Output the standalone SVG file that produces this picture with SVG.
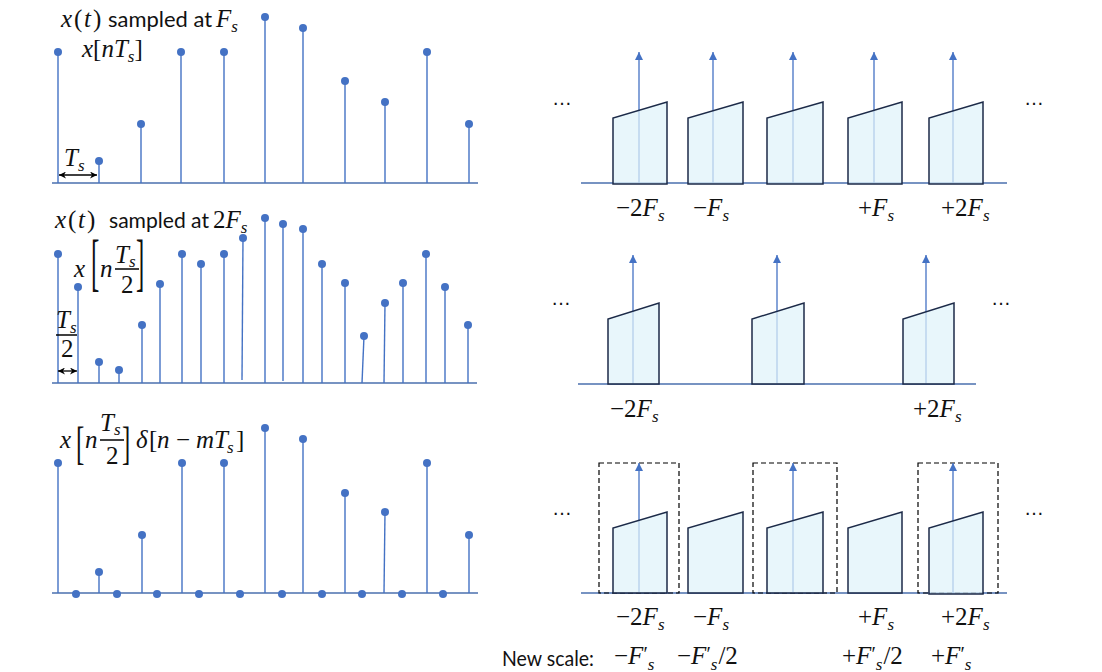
<svg xmlns="http://www.w3.org/2000/svg" width="1102" height="672" viewBox="0 0 1102 672">
<style>
.stem{stroke:#4472C4;stroke-width:1.4;fill:none}
.dot{fill:#4472C4}
.axis{stroke:#4a6fae;stroke-width:1.4;fill:none}
.arr{stroke:#4472C4;stroke-width:1.3;fill:none}
.trap{fill:#dff2fa;fill-opacity:0.72;stroke:#1c2a48;stroke-width:1.5;stroke-linejoin:miter}
.dash{fill:none;stroke:#000;stroke-width:1.2;stroke-dasharray:5,3}
.dim{stroke:#000;stroke-width:1.3;fill:none}
.m{font-family:"Liberation Serif","DejaVu Serif",serif;font-style:italic;font-size:25px;fill:#111}
.n{font-style:normal}
.sb{font-size:17px}
.s{font-family:Lato,"Liberation Sans",sans-serif;font-size:22px;fill:#111}
.el{font-family:"Liberation Sans",sans-serif;font-size:20px;fill:#111}
</style>
<defs>
<marker id="ah" viewBox="0 0 10 10" refX="10" refY="5" markerWidth="8" markerHeight="8" markerUnits="userSpaceOnUse" orient="auto"><path d="M0,0 L10,5 L0,10 z" fill="#4472C4"/></marker>
<marker id="bh" viewBox="0 0 10 10" refX="10" refY="5" markerWidth="7" markerHeight="7" markerUnits="userSpaceOnUse" orient="auto-start-reverse"><path d="M0,0 L10,5 L0,10 L3,5 z" fill="#000"/></marker>
</defs>

<!-- ===== Left top: sampled at Fs ===== -->
<g id="panel-top-left">
<line class="axis" x1="52" y1="183" x2="478" y2="183"/>
<g id="stems-top">
<line class="stem" x1="58" y1="183" x2="58" y2="52"/><circle class="dot" cx="58" cy="52" r="4"/>
<line class="stem" x1="99" y1="183" x2="99" y2="161"/><circle class="dot" cx="99" cy="161" r="4"/>
<line class="stem" x1="141" y1="183" x2="141" y2="124"/><circle class="dot" cx="141" cy="124" r="4"/>
<line class="stem" x1="181" y1="183" x2="181" y2="52"/><circle class="dot" cx="181" cy="52" r="4"/>
<line class="stem" x1="224" y1="183" x2="224" y2="52"/><circle class="dot" cx="224" cy="52" r="4"/>
<line class="stem" x1="265" y1="183" x2="265" y2="17"/><circle class="dot" cx="265" cy="17" r="4"/>
<line class="stem" x1="303" y1="183" x2="303" y2="28"/><circle class="dot" cx="303" cy="28" r="4"/>
<line class="stem" x1="345" y1="183" x2="345" y2="81"/><circle class="dot" cx="345" cy="81" r="4"/>
<line class="stem" x1="385" y1="183" x2="385" y2="102"/><circle class="dot" cx="385" cy="102" r="4"/>
<line class="stem" x1="427" y1="183" x2="427" y2="52"/><circle class="dot" cx="427" cy="52" r="4"/>
<line class="stem" x1="469" y1="183" x2="469" y2="124"/><circle class="dot" cx="469" cy="124" r="4"/>
</g>
<line class="dim" x1="59" y1="175" x2="97" y2="175" marker-start="url(#bh)" marker-end="url(#bh)"/>
<text class="m" x="64" y="166">T<tspan class="sb" dy="5">s</tspan></text>
<text class="m" y="27"><tspan x="61">x</tspan><tspan class="n" x="74">(</tspan><tspan x="84">t</tspan><tspan class="n" x="93">)</tspan></text>
<text class="s" x="108" y="27" textLength="104" lengthAdjust="spacingAndGlyphs">sampled at</text>
<text class="m" x="216" y="27">F<tspan class="sb" dy="5">s</tspan></text>
<text class="m" x="82" y="57">x<tspan class="n">[</tspan>nT<tspan class="sb" dy="5">s</tspan><tspan class="n" dy="-5">]</tspan></text>
</g>

<!-- ===== Left middle: sampled at 2Fs ===== -->
<g id="panel-mid-left">
<line class="axis" x1="52" y1="383" x2="477" y2="383"/>
<g id="stems-mid">
<line class="stem" x1="58" y1="383" x2="58" y2="254"/><circle class="dot" cx="58" cy="254" r="4"/>
<line class="stem" x1="78" y1="383" x2="78" y2="287"/><circle class="dot" cx="78" cy="287" r="4"/>
<line class="stem" x1="99" y1="383" x2="99" y2="362"/><circle class="dot" cx="99" cy="362" r="4"/>
<line class="stem" x1="119" y1="383" x2="119" y2="370"/><circle class="dot" cx="119" cy="370" r="4"/>
<line class="stem" x1="142" y1="383" x2="142" y2="325"/><circle class="dot" cx="142" cy="325" r="4"/>
<line class="stem" x1="160" y1="383" x2="160" y2="284"/><circle class="dot" cx="160" cy="284" r="4"/>
<line class="stem" x1="182" y1="383" x2="182" y2="254"/><circle class="dot" cx="182" cy="254" r="4"/>
<line class="stem" x1="201" y1="383" x2="201" y2="264"/><circle class="dot" cx="201" cy="264" r="4"/>
<line class="stem" x1="224" y1="383" x2="224" y2="254"/><circle class="dot" cx="224" cy="254" r="4"/>
<line class="stem" x1="242" y1="380" x2="243" y2="238"/><circle class="dot" cx="243" cy="238" r="4"/>
<line class="stem" x1="265" y1="383" x2="265" y2="218"/><circle class="dot" cx="265" cy="218" r="4"/>
<line class="stem" x1="283" y1="381" x2="283" y2="224"/><circle class="dot" cx="283" cy="224" r="4"/>
<line class="stem" x1="303" y1="383" x2="303" y2="229"/><circle class="dot" cx="303" cy="229" r="4"/>
<line class="stem" x1="322" y1="383" x2="322" y2="264"/><circle class="dot" cx="322" cy="264" r="4"/>
<line class="stem" x1="345" y1="383" x2="345" y2="283"/><circle class="dot" cx="345" cy="283" r="4"/>
<line class="stem" x1="362" y1="383" x2="364" y2="336"/><circle class="dot" cx="364" cy="336" r="4"/>
<line class="stem" x1="384" y1="383" x2="385" y2="303"/><circle class="dot" cx="385" cy="303" r="4"/>
<line class="stem" x1="403" y1="383" x2="403" y2="283"/><circle class="dot" cx="403" cy="283" r="4"/>
<line class="stem" x1="426" y1="383" x2="426" y2="254"/><circle class="dot" cx="426" cy="254" r="4"/>
<line class="stem" x1="445" y1="383" x2="445" y2="287"/><circle class="dot" cx="445" cy="287" r="4"/>
<line class="stem" x1="468" y1="383" x2="468" y2="325"/><circle class="dot" cx="468" cy="325" r="4"/>
</g>
<line class="dim" x1="58" y1="371" x2="77" y2="371" marker-start="url(#bh)" marker-end="url(#bh)"/>
<text class="m" x="56" y="328">T<tspan class="sb" dy="5">s</tspan></text>
<line x1="56" y1="335" x2="77" y2="335" stroke="#000" stroke-width="1.5"/>
<text class="m n" x="61" y="357">2</text>
<text class="m" y="228"><tspan x="55">x</tspan><tspan class="n" x="68">(</tspan><tspan x="78">t</tspan><tspan class="n" x="87">)</tspan></text>
<text class="s" x="109" y="228" textLength="100" lengthAdjust="spacingAndGlyphs">sampled at</text>
<text class="m" y="228"><tspan class="n" x="213">2</tspan><tspan>F</tspan><tspan class="sb" dy="5">s</tspan></text>
<text class="m" x="74" y="277">x</text>
<text class="m n" transform="translate(91,283) scale(1,2.5)" x="0" y="0">[</text>
<text class="m" x="100" y="277">n</text>
<text class="m" x="115" y="263">T<tspan class="sb" dy="4">s</tspan></text>
<line x1="115" y1="269" x2="139" y2="269" stroke="#000" stroke-width="1.5"/>
<text class="m n" x="121" y="293">2</text>
<text class="m n" transform="translate(136,283) scale(1,2.5)" x="0" y="0">]</text>
</g>

<!-- ===== Left bottom: decimated ===== -->
<g id="panel-bot-left">
<line class="axis" x1="52" y1="593" x2="478" y2="593"/>
<g id="stems-bot">
<line class="stem" x1="58" y1="593" x2="58" y2="463"/><circle class="dot" cx="58" cy="463" r="4"/>
<circle class="dot" cx="76" cy="594" r="4"/>
<line class="stem" x1="99" y1="593" x2="99" y2="572"/><circle class="dot" cx="99" cy="572" r="4"/>
<circle class="dot" cx="117" cy="594" r="4"/>
<line class="stem" x1="142" y1="593" x2="142" y2="535"/><circle class="dot" cx="142" cy="535" r="4"/>
<circle class="dot" cx="157" cy="594" r="4"/>
<line class="stem" x1="182" y1="593" x2="182" y2="463"/><circle class="dot" cx="182" cy="463" r="4"/>
<circle class="dot" cx="199" cy="594" r="4"/>
<line class="stem" x1="224" y1="593" x2="224" y2="463"/><circle class="dot" cx="224" cy="463" r="4"/>
<circle class="dot" cx="240" cy="594" r="4"/>
<line class="stem" x1="265" y1="593" x2="265" y2="428"/><circle class="dot" cx="265" cy="428" r="4"/>
<circle class="dot" cx="282" cy="594" r="4"/>
<line class="stem" x1="303" y1="593" x2="303" y2="439"/><circle class="dot" cx="303" cy="439" r="4"/>
<circle class="dot" cx="322" cy="594" r="4"/>
<line class="stem" x1="345" y1="593" x2="345" y2="493"/><circle class="dot" cx="345" cy="493" r="4"/>
<circle class="dot" cx="362" cy="594" r="4"/>
<line class="stem" x1="384" y1="593" x2="385" y2="512"/><circle class="dot" cx="385" cy="512" r="4"/>
<circle class="dot" cx="402" cy="594" r="4"/>
<line class="stem" x1="427" y1="593" x2="427" y2="463"/><circle class="dot" cx="427" cy="463" r="4"/>
<circle class="dot" cx="443" cy="594" r="4"/>
<line class="stem" x1="469" y1="593" x2="469" y2="535"/><circle class="dot" cx="469" cy="535" r="4"/>
</g>
<text class="m" x="60" y="448">x</text>
<text class="m n" transform="translate(76,459) scale(1,1.9)" x="0" y="0">[</text>
<text class="m" x="85" y="448">n</text>
<text class="m" x="100" y="431">T<tspan class="sb" dy="4">s</tspan></text>
<line x1="100" y1="440" x2="124" y2="440" stroke="#000" stroke-width="1.5"/>
<text class="m n" x="106" y="464">2</text>
<text class="m n" transform="translate(122,459) scale(1,1.9)" x="0" y="0">]</text>
<text class="m" y="448"><tspan x="136">δ</tspan><tspan class="n" x="149">[</tspan><tspan x="157">n</tspan><tspan class="n" x="176">−</tspan><tspan x="196">m</tspan><tspan x="214">T</tspan><tspan class="sb" dy="5" x="227">s</tspan><tspan class="n" dy="-5" x="236">]</tspan></text>
</g>

<!-- ===== Right top spectrum ===== -->
<g id="spectrum-top">
<line class="axis" x1="581" y1="183" x2="1007" y2="183"/>
<line class="arr" x1="639" y1="183" x2="639" y2="52" marker-end="url(#ah)"/>
<line class="arr" x1="713" y1="183" x2="713" y2="52" marker-end="url(#ah)"/>
<line class="arr" x1="793" y1="183" x2="793" y2="52" marker-end="url(#ah)"/>
<line class="arr" x1="874" y1="183" x2="874" y2="52" marker-end="url(#ah)"/>
<line class="arr" x1="953" y1="183" x2="953" y2="52" marker-end="url(#ah)"/>
<polygon class="trap" points="613,184 613,118 667,102 667,184"/>
<polygon class="trap" points="688,184 688,118 743,102 743,184"/>
<polygon class="trap" points="767,184 767,118 823,102 823,184"/>
<polygon class="trap" points="848,184 848,118 902,102 902,184"/>
<polygon class="trap" points="929,184 929,118 983,102 983,184"/>
<text class="el" x="552" y="105">…</text>
<text class="el" x="1024" y="105">…</text>
<text class="m" y="216"><tspan class="n" x="616">−2</tspan><tspan>F</tspan><tspan class="sb" dy="5">s</tspan></text>
<text class="m" y="216"><tspan class="n" x="693">−</tspan><tspan>F</tspan><tspan class="sb" dy="5">s</tspan></text>
<text class="m" y="216"><tspan class="n" x="858">+</tspan><tspan>F</tspan><tspan class="sb" dy="5">s</tspan></text>
<text class="m" y="216"><tspan class="n" x="941">+2</tspan><tspan>F</tspan><tspan class="sb" dy="5">s</tspan></text>
</g>

<!-- ===== Right middle spectrum ===== -->
<g id="spectrum-mid">
<line class="axis" x1="578" y1="384" x2="976" y2="384"/>
<line class="arr" x1="633" y1="384" x2="633" y2="255" marker-end="url(#ah)"/>
<line class="arr" x1="777" y1="384" x2="777" y2="255" marker-end="url(#ah)"/>
<line class="arr" x1="926" y1="384" x2="926" y2="255" marker-end="url(#ah)"/>
<polygon class="trap" points="608,384 608,319 659,303 659,384"/>
<polygon class="trap" points="752,384 752,319 804,303 804,384"/>
<polygon class="trap" points="903,384 903,319 954,303 954,384"/>
<text class="el" x="551" y="305">…</text>
<text class="el" x="991" y="305">…</text>
<text class="m" y="417"><tspan class="n" x="610">−2</tspan><tspan>F</tspan><tspan class="sb" dy="5">s</tspan></text>
<text class="m" y="417"><tspan class="n" x="913">+2</tspan><tspan>F</tspan><tspan class="sb" dy="5">s</tspan></text>
</g>

<!-- ===== Right bottom spectrum ===== -->
<g id="spectrum-bot">
<line class="axis" x1="581" y1="593" x2="1007" y2="593"/>
<rect class="dash" x="599" y="463" width="80" height="130"/>
<rect class="dash" x="753" y="463" width="84" height="130"/>
<rect class="dash" x="918" y="463" width="80" height="130"/>
<line class="arr" x1="639" y1="593" x2="639" y2="463" marker-end="url(#ah)"/>
<line class="arr" x1="793" y1="593" x2="793" y2="463" marker-end="url(#ah)"/>
<line class="arr" x1="953" y1="593" x2="953" y2="463" marker-end="url(#ah)"/>
<polygon class="trap" points="613,593 613,528 667,512 667,593"/>
<polygon class="trap" points="688,593 688,528 743,512 743,593"/>
<polygon class="trap" points="767,593 767,528 823,512 823,593"/>
<polygon class="trap" points="848,593 848,528 902,512 902,593"/>
<polygon class="trap" points="929,594 929,528 983,512 983,594"/>
<text class="el" x="552" y="515">…</text>
<text class="el" x="1024" y="515">…</text>
<text class="m" y="625"><tspan class="n" x="616">−2</tspan><tspan>F</tspan><tspan class="sb" dy="5">s</tspan></text>
<text class="m" y="625"><tspan class="n" x="693">−</tspan><tspan>F</tspan><tspan class="sb" dy="5">s</tspan></text>
<text class="m" y="625"><tspan class="n" x="858">+</tspan><tspan>F</tspan><tspan class="sb" dy="5">s</tspan></text>
<text class="m" y="625"><tspan class="n" x="941">+2</tspan><tspan>F</tspan><tspan class="sb" dy="5">s</tspan></text>
</g>

<!-- ===== New scale ===== -->
<g id="new-scale">
<text class="s" x="502" y="666" textLength="92" lengthAdjust="spacingAndGlyphs">New scale:</text>
<text class="m" y="664"><tspan class="n" x="614">−</tspan><tspan>F</tspan><tspan class="n" font-size="20" dy="-3">′</tspan><tspan class="sb" dy="9">s</tspan></text>
<text class="m" y="664"><tspan class="n" x="677">−</tspan><tspan>F</tspan><tspan class="n" font-size="20" dy="-3">′</tspan><tspan class="sb" dy="9">s</tspan><tspan class="n" dx="1" dy="-6">/2</tspan></text>
<text class="m" y="664"><tspan class="n" x="842">+</tspan><tspan>F</tspan><tspan class="n" font-size="20" dy="-3">′</tspan><tspan class="sb" dy="9">s</tspan><tspan class="n" dx="1" dy="-6">/2</tspan></text>
<text class="m" y="664"><tspan class="n" x="931">+</tspan><tspan>F</tspan><tspan class="n" font-size="20" dy="-3">′</tspan><tspan class="sb" dy="9">s</tspan></text>
</g>
</svg>
